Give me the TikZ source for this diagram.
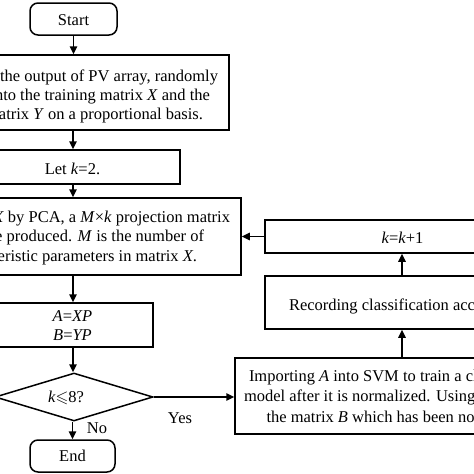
\documentclass[tikz,border=0pt]{standalone}
\usepackage{amssymb}
\usepackage{fontspec}
\setmainfont{Liberation Serif}
\usetikzlibrary{shapes.geometric,arrows.meta}
\begin{document}
\begin{tikzpicture}[x=1pt,y=-1pt,
  font=\fontsize{16.5}{19.5}\selectfont,
  box/.style={draw,line width=1.5pt,inner sep=0pt},
  term/.style={box,rounded corners=8pt},
  txt/.style={inner sep=0pt,outer sep=0pt},
  arr/.style={line width=1.5pt,-{Triangle[length=8pt,width=7.5pt]}},
  lbl/.style={inner sep=0pt}]
\useasboundingbox (0,0) rectangle (474,474);
\clip (0,0) rectangle (474,474);
% boxes
\node[term,minimum width=87pt,minimum height=32pt] (start) at (73.5,19) {};
\node[txt,anchor=base] (tstart) at (73.5,25.5) {Start};
\node[box,minimum width=312pt,minimum height=75pt] (b1) at (73,92.5) {};
\node[box,minimum width=214pt,minimum height=34pt] (let) at (73,167) {};
\node[box,minimum width=336pt,minimum height=77pt] (pca) at (73,236.5) {};
\node[box,minimum width=160pt,minimum height=44pt] (ab) at (73,325) {};
\node[draw,line width=1.5pt,diamond,inner sep=0pt,minimum width=158pt,minimum height=48pt] (dec) at (74,397) {};
\node[term,minimum width=85pt,minimum height=32pt] (end) at (72.5,456) {};
\node[box,minimum width=274pt,minimum height=33pt] (kk) at (402,236.5) {};
\node[box,minimum width=274pt,minimum height=53pt] (rec) at (402,302.5) {};
\node[box,minimum width=336pt,minimum height=76pt] (imp) at (403,396) {};
% texts
\node[txt,anchor=base east] (b1a) at (218,81.7) {Dividing the output of PV array, randomly};
\node[txt,anchor=base east] (b1b) at (210,100.3) {divided into the training matrix \textit{X} and the};
\node[txt,anchor=base east] (b1c) at (203,119) {testing matrix \textit{Y} on a proportional basis.};
\node[txt,anchor=base] (tlet) at (72.5,174.3) {Let \textit{k}=2.};
\node[txt,anchor=base east] (pa) at (230,222.7) {Reducing \textit{X} by PCA, a \textit{M}×\textit{k} projection matrix};
\node[txt,anchor=base east] (pb) at (204,241.7) {\textit{P} can be produced. \textit{M} is the number of};
\node[txt,anchor=base east] (pc) at (197,261.7) {characteristic parameters in matrix \textit{X}.};
\node[txt,anchor=base] (ta) at (72.5,321.7) {\textit{A}=\textit{XP}};
\node[txt,anchor=base] (tb) at (72.5,340.7) {\textit{B}=\textit{YP}};
\node[txt,anchor=base west] (tdec) at (48,402.7) {\textit{k}$\leqslant$8?};
\node[txt,anchor=base] (tend) at (72.5,461.7) {End};
\node[txt,anchor=base] (tkk) at (402.5,243.3) {\textit{k}=\textit{k}+1};
\node[txt,anchor=base west] (trec) at (289,310) {Recording classification accuracy};
\node[txt,anchor=base west] (ia) at (249,381.7) {Importing \textit{A} into SVM to train a classification};
\node[txt,anchor=base west] (ib) at (244,401.7) {model after it is normalized. Using the model to test};
\node[txt,anchor=base west] (ic) at (266.5,422.7) {the matrix \textit{B} which has been normalized.};
% labels
\node[lbl,anchor=base] (yes) at (180,423.3) {Yes};
\node[lbl,anchor=base] (no) at (97,433.3) {No};
% connectors
\draw[arr] (start.south) -- (start.south |- b1.north);
\draw[arr] (b1.south -| let.north) -- (let.north);
\draw[arr] (let.south) -- (let.south |- pca.north);
\draw[arr] (pca.south -| ab.north) -- (ab.north);
\draw[arr] (ab.south) -- (ab.south |- dec.north);
\draw[arr] (dec.south -| end.north) -- (end.north);
\draw[arr] (dec.east) -- (dec.east -| imp.west);
\draw[arr] (imp.north -| rec.south) -- (rec.south);
\draw[arr] (rec.north) -- (kk.south);
\draw[arr] (kk.west) -- (kk.west -| pca.east);
\end{tikzpicture}
\end{document}
